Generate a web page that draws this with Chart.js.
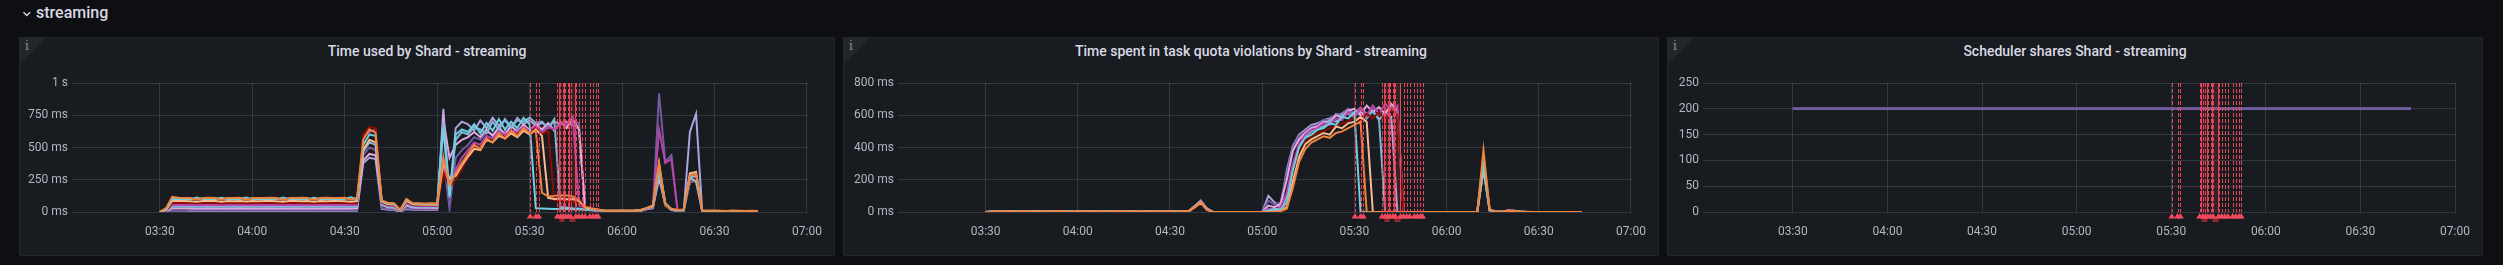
<!DOCTYPE html>
<html>
<head>
<meta charset="utf-8">
<script src="https://cdn.jsdelivr.net/npm/chart.js@4.4.1/dist/chart.umd.min.js"></script>
<style>
  body { margin: 0; width: 2503px; height: 265px; background: #0e0f12; overflow: hidden; font-family: Roboto, "Noto Sans", sans-serif; }
  .row-title { position: absolute; left: 36px; top: 5px; font-size: 16px; line-height: 16px; font-weight: 500; color: #d8d9e3; }
  .chevron { position: absolute; left: 0; top: 0; }
  .panel { position: absolute; top: 37px; width: 816px; height: 219px; background: #181b1f; box-shadow: inset 0 0 0 1px #25272c; border-radius: 2px; }
  .corner { position: absolute; left: 0; top: 0; width: 0; height: 0; border-top: 28px solid #23262b; border-right: 28px solid transparent; }
  .info { position: absolute; left: 6px; top: 2px; font-family: "DejaVu Serif", serif; font-size: 12px; color: #8e909a; }
  .title { position: absolute; left: 0; top: 7px; width: 100%; text-align: center; font-size: 14px; line-height: 14px; font-weight: 500; color: #d8d9e3; }
  canvas { position: absolute; left: 0; top: 0; }
</style>
</head>
<body>
<svg class="chevron" width="40" height="30"><polyline points="23.5,12.2 26.8,15.4 30.1,12.2" fill="none" stroke="#d8d9e3" stroke-width="1.4"/></svg>
<div class="row-title">streaming</div>

<div class="panel" style="left:19px"><div class="corner"></div><span class="info">i</span>
  <div class="title">Time used by Shard - streaming</div><canvas id="used" width="816" height="219"></canvas></div>
<div class="panel" style="left:843px"><div class="corner"></div><span class="info">i</span>
  <div class="title">Time spent in task quota violations by Shard - streaming</div><canvas id="quota" width="816" height="219"></canvas></div>
<div class="panel" style="left:1667px"><div class="corner"></div><span class="info">i</span>
  <div class="title">Scheduler shares Shard - streaming</div><canvas id="shares" width="816" height="219"></canvas></div>

<script>
// time in minutes since midnight, every 2 minutes from 03:30 to 06:44
var minutes = [210,212,214,216,218,220,222,224,226,228,
  230,232,234,236,238,240,242,244,246,248,
  250,252,254,256,258,260,262,264,266,268,
  270,272,274,276,278,280,282,284,286,288,
  290,292,294,296,298,300,302,304,306,308,
  310,312,314,316,318,320,322,324,326,328,
  330,332,334,336,338,340,342,344,346,348,
  350,352,354,356,358,360,362,364,366,368,
  370,372,374,376,378,380,382,384,386,388,
  390,392,394,396,398,400,402,404];

var xMin = 181.5, xMax = 420.6;
var xTicks = [210, 240, 270, 300, 330, 360, 390, 420];

var shardNames = ['shard-0','shard-1','shard-2','shard-3','shard-4','shard-5','shard-6','shard-7','shard-8'];
var shardColors = ['#EF843C','#6ED0E0','#F9BA8F','#890F02','#BA43A9','#82B5D8','#E5A8E2','#705DA0','#AEA2E0'];

// Time used by Shard (ms)
var usedS0 = [2,30,118,110,108,109,96,108,110,108,
  95,108,109,110,96,108,109,108,110,108,
  94,108,109,110,108,96,108,110,109,108,
  110,95,108,560,640,615,90,72,68,18,
  102,70,68,66,68,66,420,210,300,380,
  450,520,490,570,540,610,570,630,590,650,
  610,630,150,120,125,130,128,120,90,40,
  30,22,12,10,10,11,10,10,14,30,
  45,370,60,25,15,20,280,300,10,9,
  9,9,8,9,9,8,9,8];
var usedS1 = [1,20,102,100,101,99,112,100,101,100,
  110,100,99,101,112,100,100,101,99,100,
  113,100,101,99,100,111,100,101,100,99,
  101,114,100,520,600,590,85,65,62,14,
  95,66,64,62,63,62,650,120,600,640,
  620,680,610,690,630,720,640,700,650,730,
  680,30,28,26,24,25,24,22,20,18,
  15,12,10,9,9,10,9,9,12,28,
  40,330,70,20,12,15,260,240,9,8,
  8,8,8,8,8,8,8,8];
var usedS2 = [1,15,88,85,86,84,80,85,86,85,
  80,85,84,86,82,85,84,85,86,84,
  80,85,86,84,85,80,85,84,86,85,
  84,80,85,480,560,540,80,60,58,12,
  88,60,58,57,58,56,380,260,280,360,
  430,490,480,560,540,590,570,610,580,630,
  600,640,590,110,100,105,98,100,85,35,
  25,18,11,10,10,10,10,11,15,32,
  50,380,65,22,14,18,300,310,10,9,
  9,8,8,9,8,8,8,8];
var usedS3 = [1,10,72,70,70,71,68,70,71,70,
  68,70,70,71,68,70,70,70,71,70,
  68,70,71,70,70,68,70,71,70,70,
  70,68,70,600,660,650,75,55,52,10,
  80,55,52,52,53,52,300,190,250,330,
  420,480,500,560,540,600,580,610,600,640,
  620,650,600,630,90,85,80,82,70,30,
  22,15,10,9,9,9,9,10,13,28,
  40,360,55,20,12,14,240,260,9,8,
  8,8,8,8,8,8,8,8];
var usedS4 = [0,8,56,55,55,56,54,55,56,55,
  54,55,55,56,54,55,55,55,56,55,
  54,55,56,55,55,54,55,56,55,55,
  55,54,55,580,620,640,70,50,48,9,
  70,50,48,47,48,47,350,220,330,420,
  480,540,520,590,570,620,600,630,620,660,
  630,670,610,660,640,690,680,740,60,25,
  18,12,9,8,8,8,8,9,12,25,
  35,640,380,410,12,14,250,230,8,8,
  8,8,8,8,8,8,8,8];
var usedS5 = [0,6,40,40,41,40,42,40,41,40,
  43,40,40,41,42,40,40,40,41,40,
  42,40,41,40,40,43,40,41,40,40,
  41,42,40,470,540,520,60,40,38,8,
  60,40,38,38,39,38,700,130,560,620,
  600,660,640,610,700,640,720,660,710,700,
  730,690,700,650,720,40,35,30,28,22,
  16,12,9,8,8,8,8,9,12,24,
  32,300,50,18,10,12,270,280,8,8,
  8,8,8,8,8,8,8,8];
var usedS6 = [0,4,28,28,28,29,27,28,29,28,
  27,28,28,29,27,28,28,28,29,28,
  27,28,29,28,28,27,28,29,28,28,
  28,27,28,400,450,440,55,35,32,6,
  50,34,32,32,33,32,720,420,520,560,
  580,620,580,640,590,660,600,670,620,680,
  630,680,640,690,630,700,650,720,640,30,
  20,12,9,8,8,8,8,9,12,25,
  34,260,60,18,10,12,230,250,8,8,
  8,8,8,8,8,8,8,8];
var usedS7 = [0,2,4,4,4,15,15,15,15,15,
  14,15,15,15,14,15,15,15,15,15,
  14,15,15,15,15,14,15,15,15,15,
  15,14,15,440,500,480,30,22,20,4,
  30,22,20,20,21,20,420,25,420,480,
  520,580,560,620,600,630,620,660,630,670,
  640,670,620,680,640,690,670,700,690,20,
  14,10,8,8,8,8,8,8,10,20,
  30,920,390,440,10,12,260,270,8,8,
  8,8,8,8,8,8,8,8];
var usedS8 = [0,1,3,3,3,10,10,10,10,10,
  10,10,10,10,10,10,10,10,10,10,
  10,10,10,10,10,10,10,10,10,10,
  10,10,10,380,420,410,25,18,16,3,
  22,18,17,16,17,16,800,110,650,700,
  680,630,710,650,730,670,710,650,730,680,
  710,670,690,660,700,680,700,670,660,25,
  16,11,8,8,8,8,8,8,10,22,
  30,340,60,15,9,10,620,760,7,7,
  7,7,7,7,7,7,7,7];

// Time spent in task quota violations by Shard (ms)
var quotaS0 = [0,2,4,3,5,2,4,3,2,4,
  3,2,5,3,2,4,3,2,4,3,
  2,4,3,5,2,3,4,2,3,4,
  3,2,4,5,30,62,15,0,0,0,
  0,0,0,0,0,0,0,2,5,20,
  150,310,390,430,450,470,460,490,500,520,
  540,560,0,0,0,0,0,0,0,0,
  0,0,0,0,0,0,0,0,0,0,
  2,385,15,3,2,8,6,3,2,0,
  0,0,0,0,0,0,0,0];
var quotaS1 = [0,3,2,4,3,5,2,3,4,2,
  4,3,2,5,3,2,4,3,2,4,
  3,2,4,3,5,2,4,3,2,3,
  2,4,3,4,35,66,20,0,0,0,
  0,0,0,0,0,0,10,18,15,60,
  260,400,460,480,510,520,550,540,590,580,
  620,0,0,0,0,0,0,0,0,0,
  0,0,0,0,0,0,0,0,0,0,
  2,300,10,2,2,6,8,3,0,0,
  0,0,0,0,0,0,0,0];
var quotaS2 = [0,2,3,2,4,3,3,2,4,3,
  2,3,4,2,3,3,2,4,3,2,
  3,4,2,3,3,2,3,4,2,3,
  3,3,2,4,28,58,14,0,0,0,
  0,0,0,0,0,0,0,5,8,30,
  190,340,420,450,470,490,480,530,520,550,
  560,590,560,0,0,0,0,0,0,0,
  0,0,0,0,0,0,0,0,0,0,
  1,280,12,2,2,7,5,2,0,0,
  0,0,0,0,0,0,0,0];
var quotaS3 = [0,1,2,2,3,2,2,3,2,2,
  2,3,2,2,3,2,2,3,2,2,
  3,2,2,3,2,2,3,2,2,3,
  2,2,3,3,25,55,12,0,0,0,
  0,0,0,0,0,0,0,4,10,40,
  170,350,430,470,490,500,520,530,550,560,
  590,560,610,580,620,570,630,600,0,0,
  0,0,0,0,0,0,0,0,0,0,
  1,290,10,2,1,5,4,2,0,0,
  0,0,0,0,0,0,0,0];
var quotaS4 = [0,2,3,4,2,3,4,2,3,2,
  4,3,2,3,4,2,3,3,2,4,
  2,3,4,2,3,4,2,3,3,2,
  4,3,2,4,32,70,18,0,0,0,
  0,0,0,0,0,0,20,15,30,120,
  300,420,480,510,520,550,540,580,570,620,
  590,640,600,660,610,670,630,660,0,0,
  0,0,0,0,0,0,0,0,0,0,
  2,320,14,3,2,9,7,3,0,0,
  0,0,0,0,0,0,0,0];
var quotaS5 = [0,3,2,3,4,2,3,4,2,3,
  2,4,3,2,3,4,2,3,4,2,
  3,2,3,4,2,3,2,4,3,2,
  3,4,2,3,30,64,16,0,0,0,
  0,0,0,0,0,0,15,12,20,90,
  280,410,470,500,520,530,570,560,600,610,
  590,640,610,620,580,0,0,0,0,0,
  0,0,0,0,0,0,0,0,0,0,
  2,340,12,2,2,7,6,2,0,0,
  0,0,0,0,0,0,0,0];
var quotaS6 = [0,2,3,2,3,4,2,3,2,4,
  3,2,3,4,2,3,4,2,3,3,
  4,2,3,2,4,3,3,2,4,2,
  3,2,4,3,36,68,22,0,0,0,
  0,0,0,0,0,0,40,30,50,200,
  380,450,490,520,530,560,560,600,590,630,
  640,600,660,620,650,610,670,630,0,0,
  0,0,0,0,0,0,0,0,0,0,
  1,270,10,2,3,10,8,3,0,0,
  0,0,0,0,0,0,0,0];
var quotaS7 = [0,2,2,3,2,3,2,2,3,2,
  2,3,2,3,2,2,3,2,2,3,
  2,2,3,2,2,3,2,2,3,2,
  2,3,2,4,34,72,20,0,0,0,
  0,0,0,0,0,0,70,45,60,240,
  400,470,500,530,540,570,570,610,600,640,
  610,650,590,640,620,600,650,610,0,0,
  0,0,0,0,0,0,0,0,0,0,
  2,310,14,3,2,8,6,3,0,0,
  0,0,0,0,0,0,0,0];
var quotaS8 = [0,1,2,2,1,2,2,1,2,2,
  1,2,2,1,2,2,1,2,2,1,
  2,2,1,2,2,1,2,2,1,2,
  2,1,2,3,30,66,18,0,0,0,
  0,0,0,0,0,0,100,60,30,260,
  410,480,510,540,550,570,580,600,610,640,
  600,620,580,630,570,620,590,0,0,0,
  0,0,0,0,0,0,0,0,0,0,
  1,260,10,2,2,8,6,2,0,0,
  0,0,0,0,0,0,0,0];

// Scheduler shares
var shareMinutes = [210, 300, 406];
var sharesA = [200, 200, 200];
var sharesB = [200, 200, 200];
var shareColors = ['#705DA0', '#8F7EC7'];

// annotations (minutes since midnight)
var annotationTimes = [330.2, 332.0, 332.9, 339.0, 340.0, 340.8, 341.6, 342.5, 343.3,
  345.0, 346.0, 347.0, 348.0, 349.5, 350.5, 351.5, 352.2];
var regionStarts = [339.6, 342.8];
var regionEnds = [341.2, 344.7];

function pad2(n) { return (n < 10 ? '0' : '') + n; }
function hhmm(v) { var h = Math.floor(v / 60); var m = Math.round(v - h * 60); return pad2(h) + ':' + pad2(m); }

var annotationPlugin = {
  id: 'annotations',
  afterDatasetsDraw: function (chart) {
    var ctx = chart.ctx, area = chart.chartArea, x = chart.scales.x;
    ctx.save();
    for (var r = 0; r < regionStarts.length; r++) {
      var x1 = Math.round(x.getPixelForValue(regionStarts[r])) + 0.5;
      var x2 = Math.round(x.getPixelForValue(regionEnds[r])) + 0.5;
      ctx.fillStyle = 'rgba(242,73,92,0.14)';
      ctx.fillRect(x1, area.top, x2 - x1, area.bottom - area.top);
      ctx.strokeStyle = 'rgba(242,73,92,0.9)';
      ctx.lineWidth = 1;
      ctx.beginPath();
      ctx.moveTo(x1, area.top); ctx.lineTo(x1, area.bottom);
      ctx.moveTo(x2, area.top); ctx.lineTo(x2, area.bottom);
      ctx.stroke();
      ctx.fillStyle = 'rgba(150,40,48,0.95)';
      ctx.fillRect(x1, area.bottom + 6, x2 - x1, 4);
    }
    ctx.setLineDash([4, 2]);
    ctx.strokeStyle = 'rgba(242,73,92,0.95)';
    ctx.lineWidth = 1;
    for (var i = 0; i < annotationTimes.length; i++) {
      var px = Math.round(x.getPixelForValue(annotationTimes[i])) + 0.5;
      ctx.beginPath();
      ctx.moveTo(px, area.top);
      ctx.lineTo(px, area.bottom);
      ctx.stroke();
    }
    ctx.setLineDash([]);
    ctx.fillStyle = '#F2495C';
    for (var j = 0; j < annotationTimes.length; j++) {
      var tx = x.getPixelForValue(annotationTimes[j]);
      ctx.beginPath();
      ctx.moveTo(tx, area.bottom + 1);
      ctx.lineTo(tx + 3.5, area.bottom + 6.5);
      ctx.lineTo(tx - 3.5, area.bottom + 6.5);
      ctx.closePath();
      ctx.fill();
    }
    ctx.restore();
  }
};

var gridColor = 'rgba(204,204,220,0.17)';
var tickColor = '#b4b5c0';

function buildDatasets(times, seriesList, colors, width) {
  return seriesList.map(function (vals, k) {
    return {
      label: shardNames[k],
      data: times.map(function (t, i) { return { x: t, y: vals[i] }; }),
      borderColor: colors[k],
      backgroundColor: colors[k],
      borderWidth: width,
      pointRadius: 0,
      tension: 0,
      fill: false
    };
  });
}

function makeChart(id, datasets, yMax, yStep, yFormat, axisWidth, padRight) {
  return new Chart(document.getElementById(id).getContext('2d'), {
    type: 'line',
    data: { datasets: datasets },
    options: {
      responsive: false,
      animation: false,
      devicePixelRatio: 1,
      layout: { padding: { top: 46, bottom: 14, left: 0, right: padRight } },
      plugins: { legend: { display: false }, tooltip: { enabled: false } },
      scales: {
        x: {
          type: 'linear',
          min: xMin,
          max: xMax,
          afterBuildTicks: function (scale) { scale.ticks = xTicks.map(function (v) { return { value: v }; }); },
          afterFit: function (scale) { scale.height = 30; },
          grid: { color: gridColor, drawTicks: false },
          border: { display: false },
          ticks: { color: tickColor, padding: 13, maxRotation: 0, autoSkip: false, font: { family: 'Roboto', size: 12 }, callback: function (v) { return hhmm(v); } }
        },
        y: {
          min: 0,
          max: yMax,
          afterFit: function (scale) { scale.width = axisWidth; },
          grid: { color: gridColor, drawTicks: false },
          border: { display: false },
          ticks: { stepSize: yStep, color: tickColor, padding: 4, font: { family: 'Roboto', size: 12 }, callback: yFormat }
        }
      }
    },
    plugins: [annotationPlugin]
  });
}

document.fonts.load('12px Roboto').then(function () {
  makeChart('used',
    buildDatasets(minutes, [usedS0, usedS1, usedS2, usedS3, usedS4, usedS5, usedS6, usedS7, usedS8], shardColors, 2),
    1000, 250, function (v) { return v >= 1000 ? (v / 1000) + ' s' : v + ' ms'; }, 53, 25);

  makeChart('quota',
    buildDatasets(minutes, [quotaS0, quotaS1, quotaS2, quotaS3, quotaS4, quotaS5, quotaS6, quotaS7, quotaS8], shardColors, 2),
    800, 200, function (v) { return v + ' ms'; }, 55, 24);

  makeChart('shares',
    buildDatasets(shareMinutes, [sharesA, sharesB], shareColors, 2.6),
    250, 50, function (v) { return '' + v; }, 36, 22);
});
</script>
</body>
</html>
